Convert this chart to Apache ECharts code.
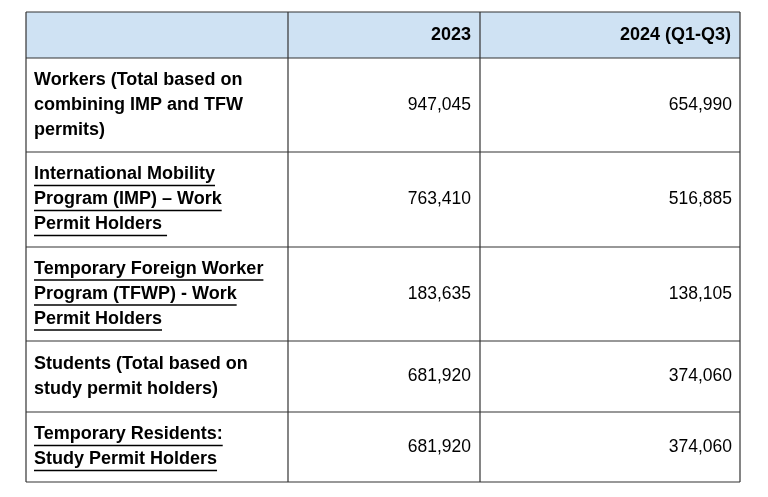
<!DOCTYPE html>
<html><head><meta charset="utf-8">
<script src="https://cdn.jsdelivr.net/npm/echarts@6/dist/echarts.min.js"></script>
<style>html,body{margin:0;background:#fff}#c{width:768px;height:497px}</style>
</head><body><div id="c"></div>
<script>
const headers = ["", "2023", "2024 (Q1-Q3)"];
const rowLabels = [
  ["Workers (Total based on", "combining IMP and TFW", "permits)"],
  ["International Mobility", "Program (IMP) – Work", "Permit Holders "],
  ["Temporary Foreign Worker", "Program (TFWP) - Work", "Permit Holders"],
  ["Students (Total based on", "study permit holders)"],
  ["Temporary Residents:", "Study Permit Holders"]
];
const underlined = [false, true, true, false, true];
const values2023 = ["947,045", "763,410", "183,635", "681,920", "681,920"];
const values2024 = ["654,990", "516,885", "138,105", "374,060", "374,060"];

const colX = [26, 288, 480, 740];
const rowY = [12, 58, 152, 247, 341, 412, 482];
const font = 'bold 18px "Liberation Sans", Arial, sans-serif';
const nfont = '17.5px "Liberation Sans", Arial, sans-serif';
const ctx = document.createElement('canvas').getContext('2d');
ctx.font = font;
const g = [];
g.push({type:'rect', shape:{x:colX[0],y:rowY[0],width:colX[3]-colX[0],height:rowY[1]-rowY[0]}, style:{fill:'#cfe2f3'}});
headers.forEach((h,i)=>{ if(!h) return;
  g.push({type:'text', style:{text:h, x:colX[i+1]-9, y:(rowY[0]+rowY[1])/2, align:'right', verticalAlign:'middle', font, fill:'#000'}});
});
rowLabels.forEach((lines,r)=>{
  const top=rowY[r+1], bot=rowY[r+2], mid=(top+bot)/2, lh=25;
  const y0 = mid - (lines.length-1)*lh/2;
  lines.forEach((t,k)=>{
    const y=y0+k*lh;
    g.push({type:'text', style:{text:t, x:34, y, verticalAlign:'middle', font, fill:'#000'}});
    if(underlined[r]){
      const w=ctx.measureText(t).width;
      g.push({type:'line', shape:{x1:34,y1:y+11,x2:34+w,y2:y+11}, style:{stroke:'#000',lineWidth:1.3}});
    }
  });
  g.push({type:'text', style:{text:values2023[r], x:colX[2]-9, y:mid, align:'right', verticalAlign:'middle', font:nfont, fill:'#000'}});
  g.push({type:'text', style:{text:values2024[r], x:colX[3]-8, y:mid, align:'right', verticalAlign:'middle', font:nfont, fill:'#000'}});
});
rowY.forEach(y=>g.push({type:'line', shape:{x1:colX[0],y1:y,x2:colX[3],y2:y}, style:{stroke:'#333',lineWidth:1.2}}));
colX.forEach(x=>g.push({type:'line', shape:{x1:x,y1:rowY[0],x2:x,y2:rowY[6]}, style:{stroke:'#333',lineWidth:1.2}}));
const chart = echarts.init(document.getElementById('c'));
chart.setOption({animation:false, graphic:{elements:g}});
</script></body></html>
